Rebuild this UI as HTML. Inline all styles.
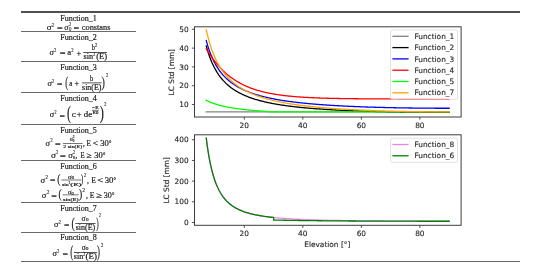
<!DOCTYPE html>
<html><head><meta charset="utf-8">
<style>
html,body{margin:0;padding:0;background:#fff;}
body{width:550px;height:280px;position:relative;overflow:hidden;}
.hr{position:absolute;left:21px;background:#6a6a6a;}
svg{position:absolute;left:0;top:0;}
svg text{font-family:"DejaVu Sans",sans-serif;font-size:7.4px;fill:#262626;stroke:#262626;stroke-width:0.12px;}
.L text{font-family:"Liberation Serif",serif;fill:#1a1a1a;stroke:#1a1a1a;stroke-width:0.18px;}
.L rect{fill:#1a1a1a;}
</style></head><body>
<div class="hr" style="top:11px;width:498.5px;height:2px;background:#505050"></div>
<div class="hr" style="top:31px;width:114.5px;height:1px"></div>
<div class="hr" style="top:61px;width:114.5px;height:1px"></div>
<div class="hr" style="top:92px;width:114.5px;height:1px"></div>
<div class="hr" style="top:124px;width:114.5px;height:1px"></div>
<div class="hr" style="top:160px;width:114.5px;height:1px"></div>
<div class="hr" style="top:202px;width:114.5px;height:1px"></div>
<div class="hr" style="top:232px;width:114.5px;height:1px"></div>
<div class="hr" style="top:261px;width:498.5px;height:1px"></div>

<svg width="550" height="280" viewBox="0 0 550 280">
<clipPath id="c26"><rect x="194.5" y="26.8" width="266.6" height="90.2"/></clipPath>
<g clip-path="url(#c26)" fill="none" stroke-width="1.3" stroke-linejoin="round" stroke-linecap="square">
<polyline points="206.26,111.91 206.99,111.91 207.72,111.91 208.46,111.91 209.19,111.91 209.92,111.91 210.65,111.91 211.38,111.91 212.11,111.91 212.85,111.91 213.58,111.91 214.31,111.91 215.04,111.91 215.77,111.91 216.50,111.91 217.23,111.91 217.97,111.91 218.70,111.91 219.43,111.91 220.16,111.91 220.89,111.91 221.62,111.91 222.36,111.91 223.09,111.91 223.82,111.91 224.55,111.91 225.28,111.91 226.01,111.91 226.74,111.91 227.48,111.91 228.21,111.91 228.94,111.91 229.67,111.91 230.40,111.91 231.13,111.91 231.86,111.91 232.60,111.91 233.33,111.91 234.06,111.91 234.79,111.91 235.52,111.91 236.25,111.91 236.99,111.91 237.72,111.91 238.45,111.91 239.18,111.91 239.91,111.91 240.64,111.91 241.37,111.91 242.11,111.91 242.84,111.91 243.57,111.91 244.30,111.91 245.03,111.91 245.76,111.91 246.49,111.91 247.23,111.91 247.96,111.91 248.69,111.91 249.42,111.91 250.15,111.91 250.88,111.91 251.62,111.91 252.35,111.91 253.08,111.91 253.81,111.91 254.54,111.91 255.27,111.91 256.00,111.91 256.74,111.91 257.47,111.91 258.20,111.91 258.93,111.91 259.66,111.91 260.39,111.91 261.12,111.91 261.86,111.91 262.59,111.91 263.32,111.91 264.05,111.91 264.78,111.91 265.51,111.91 266.25,111.91 266.98,111.91 267.71,111.91 268.44,111.91 269.17,111.91 269.90,111.91 270.63,111.91 271.37,111.91 272.10,111.91 272.83,111.91 273.56,111.91 273.56,111.91 274.29,111.91 275.02,111.91 275.75,111.91 276.49,111.91 277.22,111.91 277.95,111.91 278.68,111.91 279.41,111.91 280.14,111.91 280.88,111.91 281.61,111.91 282.34,111.91 283.07,111.91 283.80,111.91 284.53,111.91 285.26,111.91 286.00,111.91 286.73,111.91 287.46,111.91 288.19,111.91 288.92,111.91 289.65,111.91 290.38,111.91 291.12,111.91 291.85,111.91 292.58,111.91 293.31,111.91 294.04,111.91 294.77,111.91 295.50,111.91 296.24,111.91 296.97,111.91 297.70,111.91 298.43,111.91 299.16,111.91 299.89,111.91 300.63,111.91 301.36,111.91 302.09,111.91 302.82,111.91 303.55,111.91 304.28,111.91 305.01,111.91 305.75,111.91 306.48,111.91 307.21,111.91 307.94,111.91 308.67,111.91 309.40,111.91 310.13,111.91 310.87,111.91 311.60,111.91 312.33,111.91 313.06,111.91 313.79,111.91 314.52,111.91 315.26,111.91 315.99,111.91 316.72,111.91 317.45,111.91 318.18,111.91 318.91,111.91 319.64,111.91 320.38,111.91 321.11,111.91 321.84,111.91 322.57,111.91 323.30,111.91 324.03,111.91 324.76,111.91 325.50,111.91 326.23,111.91 326.96,111.91 327.69,111.91 328.42,111.91 329.15,111.91 329.89,111.91 330.62,111.91 331.35,111.91 332.08,111.91 332.81,111.91 333.54,111.91 334.27,111.91 335.01,111.91 335.74,111.91 336.47,111.91 337.20,111.91 337.93,111.91 338.66,111.91 339.39,111.91 340.13,111.91 340.86,111.91 341.59,111.91 342.32,111.91 343.05,111.91 343.78,111.91 344.52,111.91 345.25,111.91 345.98,111.91 346.71,111.91 347.44,111.91 348.17,111.91 348.90,111.91 349.64,111.91 350.37,111.91 351.10,111.91 351.83,111.91 352.56,111.91 353.29,111.91 354.02,111.91 354.76,111.91 355.49,111.91 356.22,111.91 356.95,111.91 357.68,111.91 358.41,111.91 359.15,111.91 359.88,111.91 360.61,111.91 361.34,111.91 362.07,111.91 362.80,111.91 363.53,111.91 364.27,111.91 365.00,111.91 365.73,111.91 366.46,111.91 367.19,111.91 367.92,111.91 368.65,111.91 369.39,111.91 370.12,111.91 370.85,111.91 371.58,111.91 372.31,111.91 373.04,111.91 373.78,111.91 374.51,111.91 375.24,111.91 375.97,111.91 376.70,111.91 377.43,111.91 378.16,111.91 378.90,111.91 379.63,111.91 380.36,111.91 381.09,111.91 381.82,111.91 382.55,111.91 383.29,111.91 384.02,111.91 384.75,111.91 385.48,111.91 386.21,111.91 386.94,111.91 387.67,111.91 388.41,111.91 389.14,111.91 389.87,111.91 390.60,111.91 391.33,111.91 392.06,111.91 392.79,111.91 393.53,111.91 394.26,111.91 394.99,111.91 395.72,111.91 396.45,111.91 397.18,111.91 397.92,111.91 398.65,111.91 399.38,111.91 400.11,111.91 400.84,111.91 401.57,111.91 402.30,111.91 403.04,111.91 403.77,111.91 404.50,111.91 405.23,111.91 405.96,111.91 406.69,111.91 407.42,111.91 408.16,111.91 408.89,111.91 409.62,111.91 410.35,111.91 411.08,111.91 411.81,111.91 412.55,111.91 413.28,111.91 414.01,111.91 414.74,111.91 415.47,111.91 416.20,111.91 416.93,111.91 417.67,111.91 418.40,111.91 419.13,111.91 419.86,111.91 420.59,111.91 421.32,111.91 422.05,111.91 422.79,111.91 423.52,111.91 424.25,111.91 424.98,111.91 425.71,111.91 426.44,111.91 427.18,111.91 427.91,111.91 428.64,111.91 429.37,111.91 430.10,111.91 430.83,111.91 431.56,111.91 432.30,111.91 433.03,111.91 433.76,111.91 434.49,111.91 435.22,111.91 435.95,111.91 436.68,111.91 437.42,111.91 438.15,111.91 438.88,111.91 439.61,111.91 440.34,111.91 441.07,111.91 441.81,111.91 442.54,111.91 443.27,111.91 444.00,111.91 444.73,111.91 445.46,111.91 446.19,111.91 446.93,111.91 447.66,111.91 448.39,111.91 449.12,111.91" stroke="#808080"/>
<polyline points="206.26,45.96 206.99,48.60 207.72,51.06 208.46,53.37 209.19,55.52 209.92,57.55 210.65,59.45 211.38,61.25 212.11,62.95 212.85,64.55 213.58,66.07 214.31,67.51 215.04,68.87 215.77,70.17 216.50,71.41 217.23,72.59 217.97,73.71 218.70,74.79 219.43,75.81 220.16,76.80 220.89,77.74 221.62,78.64 222.36,79.51 223.09,80.34 223.82,81.13 224.55,81.90 225.28,82.64 226.01,83.35 226.74,84.04 227.48,84.70 228.21,85.34 228.94,85.95 229.67,86.55 230.40,87.12 231.13,87.68 231.86,88.21 232.60,88.73 233.33,89.24 234.06,89.73 234.79,90.20 235.52,90.66 236.25,91.10 236.99,91.54 237.72,91.96 238.45,92.36 239.18,92.76 239.91,93.14 240.64,93.52 241.37,93.88 242.11,94.24 242.84,94.58 243.57,94.92 244.30,95.24 245.03,95.56 245.76,95.87 246.49,96.18 247.23,96.47 247.96,96.76 248.69,97.04 249.42,97.31 250.15,97.58 250.88,97.84 251.62,98.10 252.35,98.35 253.08,98.59 253.81,98.83 254.54,99.06 255.27,99.29 256.00,99.51 256.74,99.73 257.47,99.94 258.20,100.15 258.93,100.35 259.66,100.55 260.39,100.75 261.12,100.94 261.86,101.13 262.59,101.31 263.32,101.49 264.05,101.67 264.78,101.84 265.51,102.01 266.25,102.18 266.98,102.34 267.71,102.50 268.44,102.65 269.17,102.81 269.90,102.96 270.63,103.11 271.37,103.25 272.10,103.39 272.83,103.53 273.56,103.67 273.56,103.67 274.29,103.81 275.02,103.94 275.75,104.07 276.49,104.20 277.22,104.32 277.95,104.45 278.68,104.57 279.41,104.69 280.14,104.80 280.88,104.92 281.61,105.03 282.34,105.14 283.07,105.25 283.80,105.36 284.53,105.47 285.26,105.57 286.00,105.67 286.73,105.77 287.46,105.87 288.19,105.97 288.92,106.06 289.65,106.16 290.38,106.25 291.12,106.34 291.85,106.43 292.58,106.52 293.31,106.61 294.04,106.69 294.77,106.78 295.50,106.86 296.24,106.94 296.97,107.02 297.70,107.10 298.43,107.18 299.16,107.26 299.89,107.33 300.63,107.41 301.36,107.48 302.09,107.55 302.82,107.63 303.55,107.70 304.28,107.77 305.01,107.83 305.75,107.90 306.48,107.97 307.21,108.03 307.94,108.10 308.67,108.16 309.40,108.22 310.13,108.29 310.87,108.35 311.60,108.41 312.33,108.47 313.06,108.53 313.79,108.58 314.52,108.64 315.26,108.70 315.99,108.75 316.72,108.81 317.45,108.86 318.18,108.91 318.91,108.96 319.64,109.02 320.38,109.07 321.11,109.12 321.84,109.17 322.57,109.22 323.30,109.26 324.03,109.31 324.76,109.36 325.50,109.40 326.23,109.45 326.96,109.50 327.69,109.54 328.42,109.58 329.15,109.63 329.89,109.67 330.62,109.71 331.35,109.75 332.08,109.80 332.81,109.84 333.54,109.88 334.27,109.92 335.01,109.95 335.74,109.99 336.47,110.03 337.20,110.07 337.93,110.11 338.66,110.14 339.39,110.18 340.13,110.21 340.86,110.25 341.59,110.28 342.32,110.32 343.05,110.35 343.78,110.38 344.52,110.42 345.25,110.45 345.98,110.48 346.71,110.51 347.44,110.54 348.17,110.58 348.90,110.61 349.64,110.64 350.37,110.67 351.10,110.70 351.83,110.72 352.56,110.75 353.29,110.78 354.02,110.81 354.76,110.84 355.49,110.86 356.22,110.89 356.95,110.92 357.68,110.94 358.41,110.97 359.15,110.99 359.88,111.02 360.61,111.04 361.34,111.07 362.07,111.09 362.80,111.12 363.53,111.14 364.27,111.16 365.00,111.19 365.73,111.21 366.46,111.23 367.19,111.25 367.92,111.27 368.65,111.30 369.39,111.32 370.12,111.34 370.85,111.36 371.58,111.38 372.31,111.40 373.04,111.42 373.78,111.44 374.51,111.46 375.24,111.48 375.97,111.49 376.70,111.51 377.43,111.53 378.16,111.55 378.90,111.57 379.63,111.58 380.36,111.60 381.09,111.62 381.82,111.63 382.55,111.65 383.29,111.67 384.02,111.68 384.75,111.70 385.48,111.71 386.21,111.73 386.94,111.74 387.67,111.76 388.41,111.77 389.14,111.79 389.87,111.80 390.60,111.82 391.33,111.83 392.06,111.84 392.79,111.86 393.53,111.87 394.26,111.88 394.99,111.90 395.72,111.91 396.45,111.92 397.18,111.93 397.92,111.94 398.65,111.96 399.38,111.97 400.11,111.98 400.84,111.99 401.57,112.00 402.30,112.01 403.04,112.02 403.77,112.03 404.50,112.04 405.23,112.05 405.96,112.06 406.69,112.07 407.42,112.08 408.16,112.09 408.89,112.10 409.62,112.11 410.35,112.12 411.08,112.13 411.81,112.13 412.55,112.14 413.28,112.15 414.01,112.16 414.74,112.16 415.47,112.17 416.20,112.18 416.93,112.19 417.67,112.19 418.40,112.20 419.13,112.21 419.86,112.21 420.59,112.22 421.32,112.23 422.05,112.23 422.79,112.24 423.52,112.24 424.25,112.25 424.98,112.25 425.71,112.26 426.44,112.26 427.18,112.27 427.91,112.27 428.64,112.28 429.37,112.28 430.10,112.29 430.83,112.29 431.56,112.29 432.30,112.30 433.03,112.30 433.76,112.30 434.49,112.31 435.22,112.31 435.95,112.31 436.68,112.32 437.42,112.32 438.15,112.32 438.88,112.32 439.61,112.32 440.34,112.33 441.07,112.33 441.81,112.33 442.54,112.33 443.27,112.33 444.00,112.33 444.73,112.34 445.46,112.34 446.19,112.34 446.93,112.34 447.66,112.34 448.39,112.34 449.12,112.34" stroke="#000000"/>
<polyline points="206.26,40.53 206.99,43.17 207.72,45.64 208.46,47.95 209.19,50.12 209.92,52.15 210.65,54.06 211.38,55.87 212.11,57.57 212.85,59.18 213.58,60.71 214.31,62.15 215.04,63.53 215.77,64.83 216.50,66.08 217.23,67.26 217.97,68.40 218.70,69.48 219.43,70.51 220.16,71.50 220.89,72.45 221.62,73.36 222.36,74.23 223.09,75.07 223.82,75.87 224.55,76.65 225.28,77.39 226.01,78.11 226.74,78.80 227.48,79.47 228.21,80.12 228.94,80.74 229.67,81.34 230.40,81.92 231.13,82.49 231.86,83.03 232.60,83.56 233.33,84.07 234.06,84.56 234.79,85.04 235.52,85.51 236.25,85.96 236.99,86.40 237.72,86.83 238.45,87.24 239.18,87.64 239.91,88.04 240.64,88.42 241.37,88.79 242.11,89.15 242.84,89.50 243.57,89.84 244.30,90.18 245.03,90.50 245.76,90.82 246.49,91.13 247.23,91.43 247.96,91.72 248.69,92.01 249.42,92.29 250.15,92.57 250.88,92.83 251.62,93.10 252.35,93.35 253.08,93.60 253.81,93.85 254.54,94.09 255.27,94.32 256.00,94.55 256.74,94.77 257.47,94.99 258.20,95.21 258.93,95.42 259.66,95.62 260.39,95.83 261.12,96.02 261.86,96.22 262.59,96.41 263.32,96.59 264.05,96.78 264.78,96.95 265.51,97.13 266.25,97.30 266.98,97.47 267.71,97.64 268.44,97.80 269.17,97.96 269.90,98.12 270.63,98.27 271.37,98.42 272.10,98.57 272.83,98.72 273.56,98.86 273.56,98.86 274.29,99.00 275.02,99.14 275.75,99.28 276.49,99.41 277.22,99.54 277.95,99.67 278.68,99.80 279.41,99.92 280.14,100.04 280.88,100.17 281.61,100.28 282.34,100.40 283.07,100.52 283.80,100.63 284.53,100.74 285.26,100.85 286.00,100.96 286.73,101.06 287.46,101.17 288.19,101.27 288.92,101.37 289.65,101.47 290.38,101.57 291.12,101.67 291.85,101.76 292.58,101.86 293.31,101.95 294.04,102.04 294.77,102.13 295.50,102.22 296.24,102.31 296.97,102.39 297.70,102.48 298.43,102.56 299.16,102.64 299.89,102.72 300.63,102.80 301.36,102.88 302.09,102.96 302.82,103.04 303.55,103.11 304.28,103.19 305.01,103.26 305.75,103.33 306.48,103.40 307.21,103.47 307.94,103.54 308.67,103.61 309.40,103.68 310.13,103.75 310.87,103.81 311.60,103.88 312.33,103.94 313.06,104.00 313.79,104.07 314.52,104.13 315.26,104.19 315.99,104.25 316.72,104.31 317.45,104.37 318.18,104.42 318.91,104.48 319.64,104.54 320.38,104.59 321.11,104.65 321.84,104.70 322.57,104.75 323.30,104.81 324.03,104.86 324.76,104.91 325.50,104.96 326.23,105.01 326.96,105.06 327.69,105.11 328.42,105.16 329.15,105.20 329.89,105.25 330.62,105.30 331.35,105.34 332.08,105.39 332.81,105.43 333.54,105.48 334.27,105.52 335.01,105.56 335.74,105.61 336.47,105.65 337.20,105.69 337.93,105.73 338.66,105.77 339.39,105.81 340.13,105.85 340.86,105.89 341.59,105.93 342.32,105.97 343.05,106.00 343.78,106.04 344.52,106.08 345.25,106.11 345.98,106.15 346.71,106.18 347.44,106.22 348.17,106.25 348.90,106.29 349.64,106.32 350.37,106.35 351.10,106.39 351.83,106.42 352.56,106.45 353.29,106.48 354.02,106.51 354.76,106.55 355.49,106.58 356.22,106.61 356.95,106.64 357.68,106.66 358.41,106.69 359.15,106.72 359.88,106.75 360.61,106.78 361.34,106.81 362.07,106.83 362.80,106.86 363.53,106.89 364.27,106.91 365.00,106.94 365.73,106.96 366.46,106.99 367.19,107.01 367.92,107.04 368.65,107.06 369.39,107.09 370.12,107.11 370.85,107.13 371.58,107.16 372.31,107.18 373.04,107.20 373.78,107.22 374.51,107.25 375.24,107.27 375.97,107.29 376.70,107.31 377.43,107.33 378.16,107.35 378.90,107.37 379.63,107.39 380.36,107.41 381.09,107.43 381.82,107.45 382.55,107.47 383.29,107.49 384.02,107.50 384.75,107.52 385.48,107.54 386.21,107.56 386.94,107.57 387.67,107.59 388.41,107.61 389.14,107.62 389.87,107.64 390.60,107.66 391.33,107.67 392.06,107.69 392.79,107.70 393.53,107.72 394.26,107.73 394.99,107.75 395.72,107.76 396.45,107.78 397.18,107.79 397.92,107.80 398.65,107.82 399.38,107.83 400.11,107.84 400.84,107.86 401.57,107.87 402.30,107.88 403.04,107.89 403.77,107.91 404.50,107.92 405.23,107.93 405.96,107.94 406.69,107.95 407.42,107.96 408.16,107.97 408.89,107.98 409.62,107.99 410.35,108.00 411.08,108.01 411.81,108.02 412.55,108.03 413.28,108.04 414.01,108.05 414.74,108.06 415.47,108.07 416.20,108.08 416.93,108.08 417.67,108.09 418.40,108.10 419.13,108.11 419.86,108.11 420.59,108.12 421.32,108.13 422.05,108.14 422.79,108.14 423.52,108.15 424.25,108.16 424.98,108.16 425.71,108.17 426.44,108.17 427.18,108.18 427.91,108.18 428.64,108.19 429.37,108.19 430.10,108.20 430.83,108.20 431.56,108.21 432.30,108.21 433.03,108.22 433.76,108.22 434.49,108.22 435.22,108.23 435.95,108.23 436.68,108.23 437.42,108.24 438.15,108.24 438.88,108.24 439.61,108.24 440.34,108.25 441.07,108.25 441.81,108.25 442.54,108.25 443.27,108.25 444.00,108.26 444.73,108.26 445.46,108.26 446.19,108.26 446.93,108.26 447.66,108.26 448.39,108.26 449.12,108.26" stroke="#0000ff"/>
<polyline points="206.26,48.63 206.99,49.88 207.72,51.09 208.46,52.28 209.19,53.43 209.92,54.56 210.65,55.66 211.38,56.73 212.11,57.77 212.85,58.79 213.58,59.79 214.31,60.76 215.04,61.70 215.77,62.62 216.50,63.52 217.23,64.40 217.97,65.25 218.70,66.09 219.43,66.90 220.16,67.70 220.89,68.47 221.62,69.23 222.36,69.96 223.09,70.68 223.82,71.38 224.55,72.06 225.28,72.73 226.01,73.38 226.74,74.01 227.48,74.63 228.21,75.23 228.94,75.82 229.67,76.40 230.40,76.96 231.13,77.50 231.86,78.03 232.60,78.55 233.33,79.06 234.06,79.55 234.79,80.03 235.52,80.50 236.25,80.96 236.99,81.41 237.72,81.84 238.45,82.27 239.18,82.68 239.91,83.09 240.64,83.48 241.37,83.86 242.11,84.24 242.84,84.60 243.57,84.96 244.30,85.31 245.03,85.65 245.76,85.98 246.49,86.30 247.23,86.62 247.96,86.92 248.69,87.22 249.42,87.51 250.15,87.80 250.88,88.08 251.62,88.35 252.35,88.61 253.08,88.87 253.81,89.12 254.54,89.37 255.27,89.61 256.00,89.84 256.74,90.07 257.47,90.29 258.20,90.50 258.93,90.71 259.66,90.92 260.39,91.12 261.12,91.32 261.86,91.51 262.59,91.69 263.32,91.88 264.05,92.05 264.78,92.23 265.51,92.39 266.25,92.56 266.98,92.72 267.71,92.87 268.44,93.03 269.17,93.18 269.90,93.32 270.63,93.46 271.37,93.60 272.10,93.73 272.83,93.87 273.56,93.99 273.56,93.99 274.29,94.12 275.02,94.24 275.75,94.36 276.49,94.47 277.22,94.59 277.95,94.70 278.68,94.81 279.41,94.91 280.14,95.01 280.88,95.11 281.61,95.21 282.34,95.30 283.07,95.40 283.80,95.49 284.53,95.57 285.26,95.66 286.00,95.74 286.73,95.83 287.46,95.90 288.19,95.98 288.92,96.06 289.65,96.13 290.38,96.20 291.12,96.27 291.85,96.34 292.58,96.41 293.31,96.47 294.04,96.54 294.77,96.60 295.50,96.66 296.24,96.72 296.97,96.78 297.70,96.83 298.43,96.89 299.16,96.94 299.89,96.99 300.63,97.04 301.36,97.09 302.09,97.14 302.82,97.19 303.55,97.23 304.28,97.28 305.01,97.32 305.75,97.37 306.48,97.41 307.21,97.45 307.94,97.49 308.67,97.53 309.40,97.56 310.13,97.60 310.87,97.64 311.60,97.67 312.33,97.70 313.06,97.74 313.79,97.77 314.52,97.80 315.26,97.83 315.99,97.86 316.72,97.89 317.45,97.92 318.18,97.95 318.91,97.98 319.64,98.00 320.38,98.03 321.11,98.05 321.84,98.08 322.57,98.10 323.30,98.12 324.03,98.15 324.76,98.17 325.50,98.19 326.23,98.21 326.96,98.23 327.69,98.25 328.42,98.27 329.15,98.29 329.89,98.31 330.62,98.33 331.35,98.35 332.08,98.36 332.81,98.38 333.54,98.40 334.27,98.41 335.01,98.43 335.74,98.44 336.47,98.46 337.20,98.47 337.93,98.49 338.66,98.50 339.39,98.52 340.13,98.53 340.86,98.54 341.59,98.55 342.32,98.57 343.05,98.58 343.78,98.59 344.52,98.60 345.25,98.61 345.98,98.62 346.71,98.63 347.44,98.64 348.17,98.65 348.90,98.66 349.64,98.67 350.37,98.68 351.10,98.69 351.83,98.70 352.56,98.71 353.29,98.72 354.02,98.72 354.76,98.73 355.49,98.74 356.22,98.75 356.95,98.76 357.68,98.76 358.41,98.77 359.15,98.78 359.88,98.78 360.61,98.79 361.34,98.80 362.07,98.80 362.80,98.81 363.53,98.81 364.27,98.82 365.00,98.83 365.73,98.83 366.46,98.84 367.19,98.84 367.92,98.85 368.65,98.85 369.39,98.86 370.12,98.86 370.85,98.87 371.58,98.87 372.31,98.88 373.04,98.88 373.78,98.88 374.51,98.89 375.24,98.89 375.97,98.90 376.70,98.90 377.43,98.90 378.16,98.91 378.90,98.91 379.63,98.91 380.36,98.92 381.09,98.92 381.82,98.92 382.55,98.93 383.29,98.93 384.02,98.93 384.75,98.93 385.48,98.94 386.21,98.94 386.94,98.94 387.67,98.95 388.41,98.95 389.14,98.95 389.87,98.95 390.60,98.96 391.33,98.96 392.06,98.96 392.79,98.96 393.53,98.96 394.26,98.97 394.99,98.97 395.72,98.97 396.45,98.97 397.18,98.97 397.92,98.98 398.65,98.98 399.38,98.98 400.11,98.98 400.84,98.98 401.57,98.98 402.30,98.99 403.04,98.99 403.77,98.99 404.50,98.99 405.23,98.99 405.96,98.99 406.69,98.99 407.42,99.00 408.16,99.00 408.89,99.00 409.62,99.00 410.35,99.00 411.08,99.00 411.81,99.00 412.55,99.00 413.28,99.01 414.01,99.01 414.74,99.01 415.47,99.01 416.20,99.01 416.93,99.01 417.67,99.01 418.40,99.01 419.13,99.01 419.86,99.01 420.59,99.01 421.32,99.02 422.05,99.02 422.79,99.02 423.52,99.02 424.25,99.02 424.98,99.02 425.71,99.02 426.44,99.02 427.18,99.02 427.91,99.02 428.64,99.02 429.37,99.02 430.10,99.02 430.83,99.02 431.56,99.03 432.30,99.03 433.03,99.03 433.76,99.03 434.49,99.03 435.22,99.03 435.95,99.03 436.68,99.03 437.42,99.03 438.15,99.03 438.88,99.03 439.61,99.03 440.34,99.03 441.07,99.03 441.81,99.03 442.54,99.03 443.27,99.03 444.00,99.03 444.73,99.03 445.46,99.03 446.19,99.03 446.93,99.03 447.66,99.03 448.39,99.04 449.12,99.04" stroke="#ff0000"/>
<polyline points="206.26,100.22 206.99,100.62 207.72,101.00 208.46,101.36 209.19,101.71 209.92,102.03 210.65,102.35 211.38,102.65 212.11,102.93 212.85,103.21 213.58,103.47 214.31,103.72 215.04,103.97 215.77,104.20 216.50,104.43 217.23,104.65 217.97,104.86 218.70,105.06 219.43,105.26 220.16,105.45 220.89,105.63 221.62,105.81 222.36,105.98 223.09,106.15 223.82,106.31 224.55,106.47 225.28,106.63 226.01,106.78 226.74,106.92 227.48,107.06 228.21,107.20 228.94,107.33 229.67,107.47 230.40,107.59 231.13,107.72 231.86,107.84 232.60,107.96 233.33,108.07 234.06,108.18 234.79,108.29 235.52,108.40 236.25,108.51 236.99,108.61 237.72,108.71 238.45,108.81 239.18,108.90 239.91,109.00 240.64,109.09 241.37,109.18 242.11,109.27 242.84,109.36 243.57,109.44 244.30,109.53 245.03,109.61 245.76,109.69 246.49,109.77 247.23,109.84 247.96,109.92 248.69,109.99 249.42,110.07 250.15,110.14 250.88,110.21 251.62,110.28 252.35,110.35 253.08,110.41 253.81,110.48 254.54,110.54 255.27,110.61 256.00,110.67 256.74,110.73 257.47,110.79 258.20,110.85 258.93,110.91 259.66,110.97 260.39,111.02 261.12,111.08 261.86,111.13 262.59,111.19 263.32,111.24 264.05,111.29 264.78,111.34 265.51,111.39 266.25,111.44 266.98,111.49 267.71,111.54 268.44,111.59 269.17,111.64 269.90,111.68 270.63,111.73 271.37,111.78 272.10,111.82 272.83,111.86 273.56,111.91 273.56,111.91 274.29,111.91 275.02,111.91 275.75,111.91 276.49,111.91 277.22,111.91 277.95,111.91 278.68,111.91 279.41,111.91 280.14,111.91 280.88,111.91 281.61,111.91 282.34,111.91 283.07,111.91 283.80,111.91 284.53,111.91 285.26,111.91 286.00,111.91 286.73,111.91 287.46,111.91 288.19,111.91 288.92,111.91 289.65,111.91 290.38,111.91 291.12,111.91 291.85,111.91 292.58,111.91 293.31,111.91 294.04,111.91 294.77,111.91 295.50,111.91 296.24,111.91 296.97,111.91 297.70,111.91 298.43,111.91 299.16,111.91 299.89,111.91 300.63,111.91 301.36,111.91 302.09,111.91 302.82,111.91 303.55,111.91 304.28,111.91 305.01,111.91 305.75,111.91 306.48,111.91 307.21,111.91 307.94,111.91 308.67,111.91 309.40,111.91 310.13,111.91 310.87,111.91 311.60,111.91 312.33,111.91 313.06,111.91 313.79,111.91 314.52,111.91 315.26,111.91 315.99,111.91 316.72,111.91 317.45,111.91 318.18,111.91 318.91,111.91 319.64,111.91 320.38,111.91 321.11,111.91 321.84,111.91 322.57,111.91 323.30,111.91 324.03,111.91 324.76,111.91 325.50,111.91 326.23,111.91 326.96,111.91 327.69,111.91 328.42,111.91 329.15,111.91 329.89,111.91 330.62,111.91 331.35,111.91 332.08,111.91 332.81,111.91 333.54,111.91 334.27,111.91 335.01,111.91 335.74,111.91 336.47,111.91 337.20,111.91 337.93,111.91 338.66,111.91 339.39,111.91 340.13,111.91 340.86,111.91 341.59,111.91 342.32,111.91 343.05,111.91 343.78,111.91 344.52,111.91 345.25,111.91 345.98,111.91 346.71,111.91 347.44,111.91 348.17,111.91 348.90,111.91 349.64,111.91 350.37,111.91 351.10,111.91 351.83,111.91 352.56,111.91 353.29,111.91 354.02,111.91 354.76,111.91 355.49,111.91 356.22,111.91 356.95,111.91 357.68,111.91 358.41,111.91 359.15,111.91 359.88,111.91 360.61,111.91 361.34,111.91 362.07,111.91 362.80,111.91 363.53,111.91 364.27,111.91 365.00,111.91 365.73,111.91 366.46,111.91 367.19,111.91 367.92,111.91 368.65,111.91 369.39,111.91 370.12,111.91 370.85,111.91 371.58,111.91 372.31,111.91 373.04,111.91 373.78,111.91 374.51,111.91 375.24,111.91 375.97,111.91 376.70,111.91 377.43,111.91 378.16,111.91 378.90,111.91 379.63,111.91 380.36,111.91 381.09,111.91 381.82,111.91 382.55,111.91 383.29,111.91 384.02,111.91 384.75,111.91 385.48,111.91 386.21,111.91 386.94,111.91 387.67,111.91 388.41,111.91 389.14,111.91 389.87,111.91 390.60,111.91 391.33,111.91 392.06,111.91 392.79,111.91 393.53,111.91 394.26,111.91 394.99,111.91 395.72,111.91 396.45,111.91 397.18,111.91 397.92,111.91 398.65,111.91 399.38,111.91 400.11,111.91 400.84,111.91 401.57,111.91 402.30,111.91 403.04,111.91 403.77,111.91 404.50,111.91 405.23,111.91 405.96,111.91 406.69,111.91 407.42,111.91 408.16,111.91 408.89,111.91 409.62,111.91 410.35,111.91 411.08,111.91 411.81,111.91 412.55,111.91 413.28,111.91 414.01,111.91 414.74,111.91 415.47,111.91 416.20,111.91 416.93,111.91 417.67,111.91 418.40,111.91 419.13,111.91 419.86,111.91 420.59,111.91 421.32,111.91 422.05,111.91 422.79,111.91 423.52,111.91 424.25,111.91 424.98,111.91 425.71,111.91 426.44,111.91 427.18,111.91 427.91,111.91 428.64,111.91 429.37,111.91 430.10,111.91 430.83,111.91 431.56,111.91 432.30,111.91 433.03,111.91 433.76,111.91 434.49,111.91 435.22,111.91 435.95,111.91 436.68,111.91 437.42,111.91 438.15,111.91 438.88,111.91 439.61,111.91 440.34,111.91 441.07,111.91 441.81,111.91 442.54,111.91 443.27,111.91 444.00,111.91 444.73,111.91 445.46,111.91 446.19,111.91 446.93,111.91 447.66,111.91 448.39,111.91 449.12,111.91" stroke="#00ff00"/>
<polyline points="206.26,29.82 206.99,33.02 207.72,36.02 208.46,38.82 209.19,41.44 209.92,43.90 210.65,46.22 211.38,48.41 212.11,50.47 212.85,52.42 213.58,54.27 214.31,56.03 215.04,57.69 215.77,59.28 216.50,60.78 217.23,62.22 217.97,63.59 218.70,64.90 219.43,66.16 220.16,67.35 220.89,68.50 221.62,69.61 222.36,70.66 223.09,71.68 223.82,72.65 224.55,73.59 225.28,74.50 226.01,75.37 226.74,76.21 227.48,77.02 228.21,77.80 228.94,78.55 229.67,79.28 230.40,79.99 231.13,80.67 231.86,81.33 232.60,81.97 233.33,82.59 234.06,83.19 234.79,83.77 235.52,84.33 236.25,84.88 236.99,85.41 237.72,85.93 238.45,86.43 239.18,86.92 239.91,87.40 240.64,87.86 241.37,88.31 242.11,88.74 242.84,89.17 243.57,89.59 244.30,89.99 245.03,90.38 245.76,90.77 246.49,91.14 247.23,91.51 247.96,91.87 248.69,92.21 249.42,92.55 250.15,92.89 250.88,93.21 251.62,93.53 252.35,93.84 253.08,94.14 253.81,94.44 254.54,94.73 255.27,95.01 256.00,95.29 256.74,95.56 257.47,95.83 258.20,96.09 258.93,96.34 259.66,96.59 260.39,96.84 261.12,97.08 261.86,97.31 262.59,97.54 263.32,97.77 264.05,97.99 264.78,98.21 265.51,98.42 266.25,98.63 266.98,98.83 267.71,99.03 268.44,99.23 269.17,99.42 269.90,99.61 270.63,99.80 271.37,99.98 272.10,100.16 272.83,100.34 273.56,100.51 273.56,100.51 274.29,100.69 275.02,100.85 275.75,101.02 276.49,101.18 277.22,101.34 277.95,101.50 278.68,101.65 279.41,101.80 280.14,101.95 280.88,102.10 281.61,102.24 282.34,102.38 283.07,102.52 283.80,102.66 284.53,102.79 285.26,102.93 286.00,103.06 286.73,103.19 287.46,103.31 288.19,103.44 288.92,103.56 289.65,103.68 290.38,103.80 291.12,103.92 291.85,104.03 292.58,104.15 293.31,104.26 294.04,104.37 294.77,104.48 295.50,104.59 296.24,104.69 296.97,104.80 297.70,104.90 298.43,105.00 299.16,105.10 299.89,105.20 300.63,105.29 301.36,105.39 302.09,105.48 302.82,105.58 303.55,105.67 304.28,105.76 305.01,105.85 305.75,105.93 306.48,106.02 307.21,106.11 307.94,106.19 308.67,106.27 309.40,106.36 310.13,106.44 310.87,106.52 311.60,106.59 312.33,106.67 313.06,106.75 313.79,106.82 314.52,106.90 315.26,106.97 315.99,107.05 316.72,107.12 317.45,107.19 318.18,107.26 318.91,107.33 319.64,107.39 320.38,107.46 321.11,107.53 321.84,107.59 322.57,107.66 323.30,107.72 324.03,107.79 324.76,107.85 325.50,107.91 326.23,107.97 326.96,108.03 327.69,108.09 328.42,108.15 329.15,108.20 329.89,108.26 330.62,108.32 331.35,108.37 332.08,108.43 332.81,108.48 333.54,108.54 334.27,108.59 335.01,108.64 335.74,108.69 336.47,108.74 337.20,108.79 337.93,108.84 338.66,108.89 339.39,108.94 340.13,108.99 340.86,109.03 341.59,109.08 342.32,109.13 343.05,109.17 343.78,109.22 344.52,109.26 345.25,109.31 345.98,109.35 346.71,109.39 347.44,109.43 348.17,109.48 348.90,109.52 349.64,109.56 350.37,109.60 351.10,109.64 351.83,109.68 352.56,109.72 353.29,109.75 354.02,109.79 354.76,109.83 355.49,109.87 356.22,109.90 356.95,109.94 357.68,109.97 358.41,110.01 359.15,110.04 359.88,110.08 360.61,110.11 361.34,110.14 362.07,110.18 362.80,110.21 363.53,110.24 364.27,110.27 365.00,110.31 365.73,110.34 366.46,110.37 367.19,110.40 367.92,110.43 368.65,110.46 369.39,110.48 370.12,110.51 370.85,110.54 371.58,110.57 372.31,110.60 373.04,110.62 373.78,110.65 374.51,110.68 375.24,110.70 375.97,110.73 376.70,110.75 377.43,110.78 378.16,110.80 378.90,110.83 379.63,110.85 380.36,110.88 381.09,110.90 381.82,110.92 382.55,110.95 383.29,110.97 384.02,110.99 384.75,111.01 385.48,111.03 386.21,111.06 386.94,111.08 387.67,111.10 388.41,111.12 389.14,111.14 389.87,111.16 390.60,111.18 391.33,111.20 392.06,111.21 392.79,111.23 393.53,111.25 394.26,111.27 394.99,111.29 395.72,111.30 396.45,111.32 397.18,111.34 397.92,111.35 398.65,111.37 399.38,111.39 400.11,111.40 400.84,111.42 401.57,111.43 402.30,111.45 403.04,111.46 403.77,111.48 404.50,111.49 405.23,111.51 405.96,111.52 406.69,111.53 407.42,111.55 408.16,111.56 408.89,111.57 409.62,111.58 410.35,111.60 411.08,111.61 411.81,111.62 412.55,111.63 413.28,111.64 414.01,111.65 414.74,111.66 415.47,111.67 416.20,111.68 416.93,111.69 417.67,111.70 418.40,111.71 419.13,111.72 419.86,111.73 420.59,111.74 421.32,111.75 422.05,111.76 422.79,111.77 423.52,111.77 424.25,111.78 424.98,111.79 425.71,111.80 426.44,111.80 427.18,111.81 427.91,111.82 428.64,111.82 429.37,111.83 430.10,111.83 430.83,111.84 431.56,111.84 432.30,111.85 433.03,111.85 433.76,111.86 434.49,111.86 435.22,111.87 435.95,111.87 436.68,111.88 437.42,111.88 438.15,111.88 438.88,111.89 439.61,111.89 440.34,111.89 441.07,111.89 441.81,111.90 442.54,111.90 443.27,111.90 444.00,111.90 444.73,111.90 445.46,111.90 446.19,111.91 446.93,111.91 447.66,111.91 448.39,111.91 449.12,111.91" stroke="#ffa500"/>
</g>
<rect x="194.5" y="26.8" width="266.6" height="90.2" fill="none" stroke="#3c3c3c" stroke-width="1"/>
<line x1="191.9" y1="104.50" x2="194.5" y2="104.50" stroke="#3c3c3c" stroke-width="0.9"/>
<text x="188.6" y="107.10" text-anchor="end">10</text>
<line x1="191.9" y1="85.70" x2="194.5" y2="85.70" stroke="#3c3c3c" stroke-width="0.9"/>
<text x="188.6" y="88.30" text-anchor="end">20</text>
<line x1="191.9" y1="66.90" x2="194.5" y2="66.90" stroke="#3c3c3c" stroke-width="0.9"/>
<text x="188.6" y="69.50" text-anchor="end">30</text>
<line x1="191.9" y1="48.10" x2="194.5" y2="48.10" stroke="#3c3c3c" stroke-width="0.9"/>
<text x="188.6" y="50.70" text-anchor="end">40</text>
<line x1="191.9" y1="29.30" x2="194.5" y2="29.30" stroke="#3c3c3c" stroke-width="0.9"/>
<text x="188.6" y="31.90" text-anchor="end">50</text>
<line x1="244.30" y1="117.0" x2="244.30" y2="119.6" stroke="#3c3c3c" stroke-width="0.9"/>
<text x="244.30" y="127.80" text-anchor="middle">20</text>
<line x1="302.82" y1="117.0" x2="302.82" y2="119.6" stroke="#3c3c3c" stroke-width="0.9"/>
<text x="302.82" y="127.80" text-anchor="middle">40</text>
<line x1="361.34" y1="117.0" x2="361.34" y2="119.6" stroke="#3c3c3c" stroke-width="0.9"/>
<text x="361.34" y="127.80" text-anchor="middle">60</text>
<line x1="419.86" y1="117.0" x2="419.86" y2="119.6" stroke="#3c3c3c" stroke-width="0.9"/>
<text x="419.86" y="127.80" text-anchor="middle">80</text>
<text transform="translate(173.6 72.20) rotate(-90)" text-anchor="middle">LC Std [mm]</text>
<rect x="390.6" y="30.0" width="66.9" height="69.30" rx="1.4" fill="#fff" fill-opacity="0.8" stroke="#ccc" stroke-width="0.6"/>
<line x1="392.4" y1="36.30" x2="408.6" y2="36.30" stroke="#808080" stroke-width="1.3"/>
<text x="414.4" y="38.90">Function_1</text>
<line x1="392.4" y1="47.60" x2="408.6" y2="47.60" stroke="#000000" stroke-width="1.3"/>
<text x="414.4" y="50.20">Function_2</text>
<line x1="392.4" y1="58.90" x2="408.6" y2="58.90" stroke="#0000ff" stroke-width="1.3"/>
<text x="414.4" y="61.50">Function_3</text>
<line x1="392.4" y1="70.20" x2="408.6" y2="70.20" stroke="#ff0000" stroke-width="1.3"/>
<text x="414.4" y="72.80">Function_4</text>
<line x1="392.4" y1="81.50" x2="408.6" y2="81.50" stroke="#00ff00" stroke-width="1.3"/>
<text x="414.4" y="84.10">Function_5</text>
<line x1="392.4" y1="92.80" x2="408.6" y2="92.80" stroke="#ffa500" stroke-width="1.3"/>
<text x="414.4" y="95.40">Function_7</text>
<clipPath id="c134"><rect x="194.5" y="134.8" width="266.6" height="90.5"/></clipPath>
<g clip-path="url(#c134)" fill="none" stroke-width="1.3" stroke-linejoin="round" stroke-linecap="square">
<polyline points="206.26,138.12 206.99,143.81 207.72,148.94 208.46,153.58 209.19,157.80 209.92,161.64 210.65,165.14 211.38,168.35 212.11,171.29 212.85,174.00 213.58,176.50 214.31,178.80 215.04,180.94 215.77,182.92 216.50,184.76 217.23,186.48 217.97,188.08 218.70,189.57 219.43,190.97 220.16,192.28 220.89,193.51 221.62,194.66 222.36,195.75 223.09,196.77 223.82,197.73 224.55,198.64 225.28,199.50 226.01,200.32 226.74,201.09 227.48,201.82 228.21,202.51 228.94,203.17 229.67,203.79 230.40,204.39 231.13,204.95 231.86,205.49 232.60,206.01 233.33,206.50 234.06,206.96 234.79,207.41 235.52,207.84 236.25,208.25 236.99,208.64 237.72,209.02 238.45,209.38 239.18,209.72 239.91,210.05 240.64,210.37 241.37,210.68 242.11,210.97 242.84,211.25 243.57,211.53 244.30,211.79 245.03,212.04 245.76,212.28 246.49,212.52 247.23,212.74 247.96,212.96 248.69,213.17 249.42,213.37 250.15,213.57 250.88,213.76 251.62,213.94 252.35,214.12 253.08,214.29 253.81,214.46 254.54,214.62 255.27,214.77 256.00,214.92 256.74,215.07 257.47,215.21 258.20,215.35 258.93,215.48 259.66,215.61 260.39,215.74 261.12,215.86 261.86,215.98 262.59,216.09 263.32,216.21 264.05,216.31 264.78,216.42 265.51,216.52 266.25,216.62 266.98,216.72 267.71,216.81 268.44,216.91 269.17,217.00 269.90,217.08 270.63,217.17 271.37,217.25 272.10,217.33 272.83,217.41 273.56,217.49 273.56,217.49 274.29,217.56 275.02,217.63 275.75,217.71 276.49,217.78 277.22,217.84 277.95,217.91 278.68,217.97 279.41,218.04 280.14,218.10 280.88,218.16 281.61,218.22 282.34,218.28 283.07,218.33 283.80,218.39 284.53,218.44 285.26,218.49 286.00,218.54 286.73,218.59 287.46,218.64 288.19,218.69 288.92,218.74 289.65,218.78 290.38,218.83 291.12,218.87 291.85,218.92 292.58,218.96 293.31,219.00 294.04,219.04 294.77,219.08 295.50,219.12 296.24,219.16 296.97,219.19 297.70,219.23 298.43,219.27 299.16,219.30 299.89,219.34 300.63,219.37 301.36,219.40 302.09,219.44 302.82,219.47 303.55,219.50 304.28,219.53 305.01,219.56 305.75,219.59 306.48,219.62 307.21,219.65 307.94,219.67 308.67,219.70 309.40,219.73 310.13,219.75 310.87,219.78 311.60,219.81 312.33,219.83 313.06,219.86 313.79,219.88 314.52,219.90 315.26,219.93 315.99,219.95 316.72,219.97 317.45,219.99 318.18,220.02 318.91,220.04 319.64,220.06 320.38,220.08 321.11,220.10 321.84,220.12 322.57,220.14 323.30,220.16 324.03,220.18 324.76,220.19 325.50,220.21 326.23,220.23 326.96,220.25 327.69,220.27 328.42,220.28 329.15,220.30 329.89,220.32 330.62,220.33 331.35,220.35 332.08,220.36 332.81,220.38 333.54,220.40 334.27,220.41 335.01,220.43 335.74,220.44 336.47,220.45 337.20,220.47 337.93,220.48 338.66,220.50 339.39,220.51 340.13,220.52 340.86,220.54 341.59,220.55 342.32,220.56 343.05,220.57 343.78,220.59 344.52,220.60 345.25,220.61 345.98,220.62 346.71,220.63 347.44,220.64 348.17,220.65 348.90,220.67 349.64,220.68 350.37,220.69 351.10,220.70 351.83,220.71 352.56,220.72 353.29,220.73 354.02,220.74 354.76,220.75 355.49,220.76 356.22,220.77 356.95,220.78 357.68,220.79 358.41,220.79 359.15,220.80 359.88,220.81 360.61,220.82 361.34,220.83 362.07,220.84 362.80,220.85 363.53,220.85 364.27,220.86 365.00,220.87 365.73,220.88 366.46,220.88 367.19,220.89 367.92,220.90 368.65,220.91 369.39,220.91 370.12,220.92 370.85,220.93 371.58,220.94 372.31,220.94 373.04,220.95 373.78,220.96 374.51,220.96 375.24,220.97 375.97,220.97 376.70,220.98 377.43,220.99 378.16,220.99 378.90,221.00 379.63,221.00 380.36,221.01 381.09,221.02 381.82,221.02 382.55,221.03 383.29,221.03 384.02,221.04 384.75,221.04 385.48,221.05 386.21,221.05 386.94,221.06 387.67,221.06 388.41,221.07 389.14,221.07 389.87,221.08 390.60,221.08 391.33,221.09 392.06,221.09 392.79,221.09 393.53,221.10 394.26,221.10 394.99,221.11 395.72,221.11 396.45,221.11 397.18,221.12 397.92,221.12 398.65,221.13 399.38,221.13 400.11,221.13 400.84,221.14 401.57,221.14 402.30,221.14 403.04,221.15 403.77,221.15 404.50,221.15 405.23,221.16 405.96,221.16 406.69,221.16 407.42,221.17 408.16,221.17 408.89,221.17 409.62,221.17 410.35,221.18 411.08,221.18 411.81,221.18 412.55,221.19 413.28,221.19 414.01,221.19 414.74,221.19 415.47,221.19 416.20,221.20 416.93,221.20 417.67,221.20 418.40,221.20 419.13,221.21 419.86,221.21 420.59,221.21 421.32,221.21 422.05,221.21 422.79,221.22 423.52,221.22 424.25,221.22 424.98,221.22 425.71,221.22 426.44,221.22 427.18,221.23 427.91,221.23 428.64,221.23 429.37,221.23 430.10,221.23 430.83,221.23 431.56,221.23 432.30,221.23 433.03,221.24 433.76,221.24 434.49,221.24 435.22,221.24 435.95,221.24 436.68,221.24 437.42,221.24 438.15,221.24 438.88,221.24 439.61,221.24 440.34,221.24 441.07,221.24 441.81,221.24 442.54,221.24 443.27,221.25 444.00,221.25 444.73,221.25 445.46,221.25 446.19,221.25 446.93,221.25 447.66,221.25 448.39,221.25 449.12,221.25" stroke="#ee82ee"/>
<polyline points="206.26,138.12 206.99,143.81 207.72,148.94 208.46,153.58 209.19,157.80 209.92,161.64 210.65,165.14 211.38,168.35 212.11,171.29 212.85,174.00 213.58,176.50 214.31,178.80 215.04,180.94 215.77,182.92 216.50,184.76 217.23,186.48 217.97,188.08 218.70,189.57 219.43,190.97 220.16,192.28 220.89,193.51 221.62,194.66 222.36,195.75 223.09,196.77 223.82,197.73 224.55,198.64 225.28,199.50 226.01,200.32 226.74,201.09 227.48,201.82 228.21,202.51 228.94,203.17 229.67,203.79 230.40,204.39 231.13,204.95 231.86,205.49 232.60,206.01 233.33,206.50 234.06,206.96 234.79,207.41 235.52,207.84 236.25,208.25 236.99,208.64 237.72,209.02 238.45,209.38 239.18,209.72 239.91,210.05 240.64,210.37 241.37,210.68 242.11,210.97 242.84,211.25 243.57,211.53 244.30,211.79 245.03,212.04 245.76,212.28 246.49,212.52 247.23,212.74 247.96,212.96 248.69,213.17 249.42,213.37 250.15,213.57 250.88,213.76 251.62,213.94 252.35,214.12 253.08,214.29 253.81,214.46 254.54,214.62 255.27,214.77 256.00,214.92 256.74,215.07 257.47,215.21 258.20,215.35 258.93,215.48 259.66,215.61 260.39,215.74 261.12,215.86 261.86,215.98 262.59,216.09 263.32,216.21 264.05,216.31 264.78,216.42 265.51,216.52 266.25,216.62 266.98,216.72 267.71,216.81 268.44,216.91 269.17,217.00 269.90,217.08 270.63,217.17 271.37,217.25 272.10,217.33 272.83,217.41 273.56,217.49 273.56,219.99 274.29,220.01 275.02,220.03 275.75,220.05 276.49,220.07 277.22,220.08 277.95,220.10 278.68,220.12 279.41,220.14 280.14,220.15 280.88,220.17 281.61,220.18 282.34,220.20 283.07,220.21 283.80,220.23 284.53,220.24 285.26,220.26 286.00,220.27 286.73,220.29 287.46,220.30 288.19,220.32 288.92,220.33 289.65,220.34 290.38,220.36 291.12,220.37 291.85,220.38 292.58,220.39 293.31,220.41 294.04,220.42 294.77,220.43 295.50,220.44 296.24,220.45 296.97,220.46 297.70,220.48 298.43,220.49 299.16,220.50 299.89,220.51 300.63,220.52 301.36,220.53 302.09,220.54 302.82,220.55 303.55,220.56 304.28,220.57 305.01,220.58 305.75,220.59 306.48,220.60 307.21,220.61 307.94,220.62 308.67,220.63 309.40,220.64 310.13,220.65 310.87,220.65 311.60,220.66 312.33,220.67 313.06,220.68 313.79,220.69 314.52,220.70 315.26,220.70 315.99,220.71 316.72,220.72 317.45,220.73 318.18,220.74 318.91,220.74 319.64,220.75 320.38,220.76 321.11,220.77 321.84,220.77 322.57,220.78 323.30,220.79 324.03,220.79 324.76,220.80 325.50,220.81 326.23,220.81 326.96,220.82 327.69,220.83 328.42,220.83 329.15,220.84 329.89,220.85 330.62,220.85 331.35,220.86 332.08,220.86 332.81,220.87 333.54,220.88 334.27,220.88 335.01,220.89 335.74,220.89 336.47,220.90 337.20,220.90 337.93,220.91 338.66,220.92 339.39,220.92 340.13,220.93 340.86,220.93 341.59,220.94 342.32,220.94 343.05,220.95 343.78,220.95 344.52,220.96 345.25,220.96 345.98,220.97 346.71,220.97 347.44,220.97 348.17,220.98 348.90,220.98 349.64,220.99 350.37,220.99 351.10,221.00 351.83,221.00 352.56,221.01 353.29,221.01 354.02,221.01 354.76,221.02 355.49,221.02 356.22,221.03 356.95,221.03 357.68,221.03 358.41,221.04 359.15,221.04 359.88,221.05 360.61,221.05 361.34,221.05 362.07,221.06 362.80,221.06 363.53,221.06 364.27,221.07 365.00,221.07 365.73,221.07 366.46,221.08 367.19,221.08 367.92,221.08 368.65,221.09 369.39,221.09 370.12,221.09 370.85,221.10 371.58,221.10 372.31,221.10 373.04,221.11 373.78,221.11 374.51,221.11 375.24,221.11 375.97,221.12 376.70,221.12 377.43,221.12 378.16,221.13 378.90,221.13 379.63,221.13 380.36,221.13 381.09,221.14 381.82,221.14 382.55,221.14 383.29,221.14 384.02,221.15 384.75,221.15 385.48,221.15 386.21,221.15 386.94,221.16 387.67,221.16 388.41,221.16 389.14,221.16 389.87,221.16 390.60,221.17 391.33,221.17 392.06,221.17 392.79,221.17 393.53,221.17 394.26,221.18 394.99,221.18 395.72,221.18 396.45,221.18 397.18,221.18 397.92,221.19 398.65,221.19 399.38,221.19 400.11,221.19 400.84,221.19 401.57,221.19 402.30,221.20 403.04,221.20 403.77,221.20 404.50,221.20 405.23,221.20 405.96,221.20 406.69,221.21 407.42,221.21 408.16,221.21 408.89,221.21 409.62,221.21 410.35,221.21 411.08,221.21 411.81,221.22 412.55,221.22 413.28,221.22 414.01,221.22 414.74,221.22 415.47,221.22 416.20,221.22 416.93,221.22 417.67,221.22 418.40,221.23 419.13,221.23 419.86,221.23 420.59,221.23 421.32,221.23 422.05,221.23 422.79,221.23 423.52,221.23 424.25,221.23 424.98,221.23 425.71,221.23 426.44,221.24 427.18,221.24 427.91,221.24 428.64,221.24 429.37,221.24 430.10,221.24 430.83,221.24 431.56,221.24 432.30,221.24 433.03,221.24 433.76,221.24 434.49,221.24 435.22,221.24 435.95,221.24 436.68,221.24 437.42,221.24 438.15,221.24 438.88,221.24 439.61,221.24 440.34,221.25 441.07,221.25 441.81,221.25 442.54,221.25 443.27,221.25 444.00,221.25 444.73,221.25 445.46,221.25 446.19,221.25 446.93,221.25 447.66,221.25 448.39,221.25 449.12,221.25" stroke="#008000"/>
</g>
<rect x="194.5" y="134.8" width="266.6" height="90.5" fill="none" stroke="#3c3c3c" stroke-width="1"/>
<line x1="191.9" y1="222.50" x2="194.5" y2="222.50" stroke="#3c3c3c" stroke-width="0.9"/>
<text x="188.6" y="225.10" text-anchor="end">0</text>
<line x1="191.9" y1="201.82" x2="194.5" y2="201.82" stroke="#3c3c3c" stroke-width="0.9"/>
<text x="188.6" y="204.42" text-anchor="end">100</text>
<line x1="191.9" y1="181.14" x2="194.5" y2="181.14" stroke="#3c3c3c" stroke-width="0.9"/>
<text x="188.6" y="183.74" text-anchor="end">200</text>
<line x1="191.9" y1="160.46" x2="194.5" y2="160.46" stroke="#3c3c3c" stroke-width="0.9"/>
<text x="188.6" y="163.06" text-anchor="end">300</text>
<line x1="191.9" y1="139.78" x2="194.5" y2="139.78" stroke="#3c3c3c" stroke-width="0.9"/>
<text x="188.6" y="142.38" text-anchor="end">400</text>
<line x1="244.30" y1="225.3" x2="244.30" y2="227.9" stroke="#3c3c3c" stroke-width="0.9"/>
<text x="244.30" y="236.10" text-anchor="middle">20</text>
<line x1="302.82" y1="225.3" x2="302.82" y2="227.9" stroke="#3c3c3c" stroke-width="0.9"/>
<text x="302.82" y="236.10" text-anchor="middle">40</text>
<line x1="361.34" y1="225.3" x2="361.34" y2="227.9" stroke="#3c3c3c" stroke-width="0.9"/>
<text x="361.34" y="236.10" text-anchor="middle">60</text>
<line x1="419.86" y1="225.3" x2="419.86" y2="227.9" stroke="#3c3c3c" stroke-width="0.9"/>
<text x="419.86" y="236.10" text-anchor="middle">80</text>
<text transform="translate(169.1 180.35) rotate(-90)" text-anchor="middle">LC Std [mm]</text>
<rect x="390.6" y="138.2" width="66.9" height="24.10" rx="1.4" fill="#fff" fill-opacity="0.8" stroke="#ccc" stroke-width="0.6"/>
<line x1="392.4" y1="144.50" x2="408.6" y2="144.50" stroke="#ee82ee" stroke-width="1.3"/>
<text x="414.4" y="147.10">Function_8</text>
<line x1="392.4" y1="155.80" x2="408.6" y2="155.80" stroke="#008000" stroke-width="1.3"/>
<text x="414.4" y="158.40">Function_6</text>
<text x="327.3" y="246.8" text-anchor="middle">Elevation [°]</text>
<g class="L">
<text x="78.5" y="20.8" style="font-size:8px" text-anchor="middle">Function_1</text>
<text x="78.5" y="39.9" style="font-size:8px" text-anchor="middle">Function_2</text>
<text x="78.5" y="69.9" style="font-size:8px" text-anchor="middle">Function_3</text>
<text x="78.5" y="100.9" style="font-size:8px" text-anchor="middle">Function_4</text>
<text x="78.5" y="132.9" style="font-size:8px" text-anchor="middle">Function_5</text>
<text x="78.5" y="168.9" style="font-size:8px" text-anchor="middle">Function_6</text>
<text x="78.5" y="210.9" style="font-size:8px" text-anchor="middle">Function_7</text>
<text x="78.5" y="240.3" style="font-size:8px" text-anchor="middle">Function_8</text>
<text x="46.66" y="29.80" style="font-size:7.7px" textLength="4.88" lengthAdjust="spacingAndGlyphs">σ</text>
<text x="51.70" y="26.60" style="font-size:5.9px" textLength="2.25" lengthAdjust="spacingAndGlyphs">2</text>
<text x="56.90" y="31.19" style="font-size:9.0px" textLength="5.70" lengthAdjust="spacingAndGlyphs">=</text>
<text x="64.29" y="29.80" style="font-size:7.7px" textLength="4.44" lengthAdjust="spacingAndGlyphs">σ</text>
<text x="69.24" y="25.80" style="font-size:5.9px" textLength="1.87" lengthAdjust="spacingAndGlyphs">2</text>
<text x="69.24" y="30.60" style="font-size:5.9px" textLength="2.12" lengthAdjust="spacingAndGlyphs">0</text>
<text x="73.60" y="31.19" style="font-size:9.0px" textLength="5.70" lengthAdjust="spacingAndGlyphs">=</text>
<text x="81.78" y="29.80" style="font-size:7.7px" textLength="28.72" lengthAdjust="spacingAndGlyphs">constans</text>
<text x="49.59" y="55.00" style="font-size:7.7px" textLength="4.44" lengthAdjust="spacingAndGlyphs">σ</text>
<text x="54.22" y="52.00" style="font-size:5.9px" textLength="2.00" lengthAdjust="spacingAndGlyphs">2</text>
<text x="59.69" y="56.39" style="font-size:9.0px" textLength="5.82" lengthAdjust="spacingAndGlyphs">=</text>
<text x="67.39" y="55.00" style="font-size:7.7px" textLength="3.93" lengthAdjust="spacingAndGlyphs">a</text>
<text x="71.42" y="52.00" style="font-size:5.9px" textLength="2.00" lengthAdjust="spacingAndGlyphs">2</text>
<text x="76.58" y="55.60" style="font-size:7.7px" textLength="4.73" lengthAdjust="spacingAndGlyphs">+</text>
<rect x="83.30" y="52.12" width="23.60" height="0.75"/>
<text x="91.80" y="49.70" style="font-size:7.2px" textLength="3.14" lengthAdjust="spacingAndGlyphs">b</text>
<text x="95.11" y="46.60" style="font-size:5.4px" textLength="2.12" lengthAdjust="spacingAndGlyphs">2</text>
<text x="83.56" y="59.20" style="font-size:7.2px" textLength="9.56" lengthAdjust="spacingAndGlyphs">sin</text>
<text x="93.22" y="56.30" style="font-size:5.2px" textLength="2.00" lengthAdjust="spacingAndGlyphs">2</text>
<text x="96.23" y="59.20" style="font-size:7.2px" textLength="10.85" lengthAdjust="spacingAndGlyphs">(E)</text>
<text x="47.49" y="86.00" style="font-size:7.7px" textLength="4.44" lengthAdjust="spacingAndGlyphs">σ</text>
<text x="52.12" y="83.20" style="font-size:5.9px" textLength="2.00" lengthAdjust="spacingAndGlyphs">2</text>
<text x="56.93" y="86.59" style="font-size:9.0px" textLength="5.33" lengthAdjust="spacingAndGlyphs">=</text>
<text transform="translate(65.32 87.21) scale(0.571 1)" style="font-size:15.00px">(</text>
<text x="69.35" y="86.00" style="font-size:7.7px" textLength="3.15" lengthAdjust="spacingAndGlyphs">a</text>
<text x="74.48" y="85.60" style="font-size:7.7px" textLength="4.73" lengthAdjust="spacingAndGlyphs">+</text>
<rect x="82.10" y="82.53" width="19.50" height="0.75"/>
<text x="90.00" y="80.50" style="font-size:7.2px" textLength="3.25" lengthAdjust="spacingAndGlyphs">b</text>
<text x="82.07" y="90.00" style="font-size:7.2px" textLength="19.37" lengthAdjust="spacingAndGlyphs">sin(E)</text>
<text transform="translate(101.57 87.21) scale(0.675 1)" style="font-size:15.00px">)</text>
<text x="105.91" y="76.60" style="font-size:5.9px" textLength="2.12" lengthAdjust="spacingAndGlyphs">2</text>
<text x="49.79" y="117.00" style="font-size:7.7px" textLength="4.44" lengthAdjust="spacingAndGlyphs">σ</text>
<text x="54.42" y="114.00" style="font-size:5.9px" textLength="2.00" lengthAdjust="spacingAndGlyphs">2</text>
<text x="59.42" y="118.59" style="font-size:9.0px" textLength="5.45" lengthAdjust="spacingAndGlyphs">=</text>
<text transform="translate(66.99 119.07) scale(0.602 1)" style="font-size:19.41px">(</text>
<text x="71.65" y="117.00" style="font-size:7.7px" textLength="4.02" lengthAdjust="spacingAndGlyphs">c</text>
<text x="76.87" y="116.70" style="font-size:7.7px" textLength="4.85" lengthAdjust="spacingAndGlyphs">+</text>
<text x="83.68" y="117.00" style="font-size:7.7px" textLength="8.43" lengthAdjust="spacingAndGlyphs">de</text>
<text x="92.12" y="108.60" style="font-size:4.5px" textLength="6.56" lengthAdjust="spacingAndGlyphs">−E</text>
<rect x="92.00" y="109.90" width="6.90" height="0.6"/>
<text x="92.45" y="113.70" style="font-size:4.5px" textLength="5.96" lengthAdjust="spacingAndGlyphs">E0</text>
<text transform="translate(99.70 119.07) scale(0.642 1)" style="font-size:19.41px">)</text>
<text x="104.21" y="106.40" style="font-size:5.9px" textLength="2.12" lengthAdjust="spacingAndGlyphs">2</text>
<text x="45.58" y="145.80" style="font-size:7.7px" textLength="4.55" lengthAdjust="spacingAndGlyphs">σ</text>
<text x="50.51" y="142.40" style="font-size:5.9px" textLength="2.12" lengthAdjust="spacingAndGlyphs">2</text>
<text x="55.10" y="146.99" style="font-size:9.0px" textLength="5.70" lengthAdjust="spacingAndGlyphs">=</text>
<rect x="63.00" y="143.20" width="19.60" height="0.6"/>
<text x="69.78" y="141.30" style="font-size:5.2px" textLength="3.11" lengthAdjust="spacingAndGlyphs">σ</text>
<text x="72.85" y="138.20" style="font-size:4.0px" textLength="1.75" lengthAdjust="spacingAndGlyphs">2</text>
<text x="72.87" y="142.20" style="font-size:3.8px" textLength="1.65" lengthAdjust="spacingAndGlyphs">0</text>
<text x="63.34" y="148.40" style="font-size:5.0px" textLength="18.82" lengthAdjust="spacingAndGlyphs">2 sin(E)</text>
<text x="82.67" y="145.80" style="font-size:7.7px" textLength="2.18" lengthAdjust="spacingAndGlyphs">,</text>
<text x="86.59" y="145.80" style="font-size:7.7px" textLength="4.36" lengthAdjust="spacingAndGlyphs">E</text>
<text x="92.83" y="145.80" style="font-size:7.7px" textLength="5.33" lengthAdjust="spacingAndGlyphs">&lt;</text>
<text x="100.29" y="145.80" style="font-size:7.7px" textLength="8.53" lengthAdjust="spacingAndGlyphs">30</text>
<text x="108.91" y="145.49" style="font-size:6.0px">°</text>
<text x="51.05" y="157.80" style="font-size:7.7px" textLength="4.99" lengthAdjust="spacingAndGlyphs">σ</text>
<text x="56.32" y="154.00" style="font-size:5.9px" textLength="2.00" lengthAdjust="spacingAndGlyphs">2</text>
<text x="59.75" y="158.59" style="font-size:9.0px" textLength="6.18" lengthAdjust="spacingAndGlyphs">=</text>
<text x="68.27" y="157.80" style="font-size:7.7px" textLength="4.66" lengthAdjust="spacingAndGlyphs">σ</text>
<text x="73.02" y="153.50" style="font-size:5.9px" textLength="2.00" lengthAdjust="spacingAndGlyphs">2</text>
<text x="73.06" y="158.90" style="font-size:4.2px" textLength="1.89" lengthAdjust="spacingAndGlyphs">0</text>
<text x="75.27" y="157.80" style="font-size:7.7px" textLength="2.18" lengthAdjust="spacingAndGlyphs">,</text>
<text x="80.51" y="157.80" style="font-size:7.7px" textLength="4.13" lengthAdjust="spacingAndGlyphs">E</text>
<text x="86.41" y="157.80" style="font-size:7.7px" textLength="5.18" lengthAdjust="spacingAndGlyphs">≥</text>
<text x="94.29" y="157.80" style="font-size:7.7px" textLength="8.53" lengthAdjust="spacingAndGlyphs">30</text>
<text x="102.91" y="157.49" style="font-size:6.0px">°</text>
<text x="40.57" y="182.60" style="font-size:7.7px" textLength="4.66" lengthAdjust="spacingAndGlyphs">σ</text>
<text x="45.59" y="179.10" style="font-size:5.9px" textLength="2.37" lengthAdjust="spacingAndGlyphs">2</text>
<text x="50.12" y="183.49" style="font-size:9.0px" textLength="5.45" lengthAdjust="spacingAndGlyphs">=</text>
<text transform="translate(57.19 182.51) scale(0.799 1)" style="font-size:11.69px">(</text>
<rect x="61.40" y="179.70" width="20.00" height="0.6"/>
<text x="68.03" y="178.90" style="font-size:5.2px" textLength="3.77" lengthAdjust="spacingAndGlyphs">σ</text>
<text x="71.84" y="179.40" style="font-size:3.8px" textLength="2.12" lengthAdjust="spacingAndGlyphs">0</text>
<text x="61.96" y="185.60" style="font-size:4.8px" textLength="6.72" lengthAdjust="spacingAndGlyphs">sin</text>
<text x="68.67" y="183.70" style="font-size:3.6px" textLength="1.50" lengthAdjust="spacingAndGlyphs">2</text>
<text x="70.22" y="185.90" style="font-size:4.6px" textLength="11.17" lengthAdjust="spacingAndGlyphs">(E)</text>
<text transform="translate(81.09 182.51) scale(0.566 1)" style="font-size:11.69px">)</text>
<text x="84.11" y="176.80" style="font-size:5.9px" textLength="2.12" lengthAdjust="spacingAndGlyphs">2</text>
<text x="87.09" y="182.60" style="font-size:7.7px" textLength="2.01" lengthAdjust="spacingAndGlyphs">,</text>
<text x="91.18" y="182.60" style="font-size:7.7px" textLength="4.59" lengthAdjust="spacingAndGlyphs">E</text>
<text x="97.28" y="182.60" style="font-size:7.7px" textLength="5.94" lengthAdjust="spacingAndGlyphs">&lt;</text>
<text x="104.68" y="182.60" style="font-size:7.7px" textLength="8.75" lengthAdjust="spacingAndGlyphs">30</text>
<text x="113.61" y="182.19" style="font-size:6.0px">°</text>
<text x="41.67" y="197.60" style="font-size:7.7px" textLength="4.66" lengthAdjust="spacingAndGlyphs">σ</text>
<text x="46.89" y="194.40" style="font-size:5.9px" textLength="2.37" lengthAdjust="spacingAndGlyphs">2</text>
<text x="51.21" y="198.69" style="font-size:9.0px" textLength="5.58" lengthAdjust="spacingAndGlyphs">=</text>
<text transform="translate(58.39 198.25) scale(0.724 1)" style="font-size:12.90px">(</text>
<rect x="62.60" y="194.60" width="16.00" height="0.6"/>
<text x="68.05" y="194.00" style="font-size:5.2px" textLength="3.55" lengthAdjust="spacingAndGlyphs">σ</text>
<text x="71.64" y="194.50" style="font-size:3.8px" textLength="2.12" lengthAdjust="spacingAndGlyphs">0</text>
<text x="63.04" y="200.60" style="font-size:4.8px" textLength="15.64" lengthAdjust="spacingAndGlyphs">sin(E)</text>
<text transform="translate(78.99 198.25) scale(0.754 1)" style="font-size:12.90px">)</text>
<text x="82.48" y="192.10" style="font-size:5.9px" textLength="2.49" lengthAdjust="spacingAndGlyphs">2</text>
<text x="86.09" y="197.60" style="font-size:7.7px" textLength="2.01" lengthAdjust="spacingAndGlyphs">,</text>
<text x="89.88" y="197.60" style="font-size:7.7px" textLength="4.71" lengthAdjust="spacingAndGlyphs">E</text>
<text x="96.27" y="197.60" style="font-size:7.7px" textLength="5.77" lengthAdjust="spacingAndGlyphs">≥</text>
<text x="103.72" y="197.60" style="font-size:7.7px" textLength="7.99" lengthAdjust="spacingAndGlyphs">30</text>
<text x="111.91" y="197.49" style="font-size:6.0px">°</text>
<text x="54.09" y="227.20" style="font-size:7.7px" textLength="4.44" lengthAdjust="spacingAndGlyphs">σ</text>
<text x="58.72" y="224.10" style="font-size:5.9px" textLength="2.00" lengthAdjust="spacingAndGlyphs">2</text>
<text x="63.93" y="227.89" style="font-size:9.0px" textLength="5.33" lengthAdjust="spacingAndGlyphs">=</text>
<text transform="translate(71.47 227.84) scale(0.635 1)" style="font-size:15.33px">(</text>
<rect x="75.50" y="223.03" width="20.00" height="0.75"/>
<text x="81.61" y="220.50" style="font-size:7.4px" textLength="4.11" lengthAdjust="spacingAndGlyphs">σ</text>
<text x="85.90" y="221.20" style="font-size:5.0px" textLength="2.60" lengthAdjust="spacingAndGlyphs">0</text>
<text x="75.77" y="229.90" style="font-size:7.2px" textLength="19.48" lengthAdjust="spacingAndGlyphs">sin(E)</text>
<text transform="translate(96.26 227.84) scale(0.483 1)" style="font-size:15.33px">)</text>
<text x="98.94" y="217.40" style="font-size:5.9px" textLength="1.87" lengthAdjust="spacingAndGlyphs">2</text>
<text x="52.59" y="256.20" style="font-size:7.7px" textLength="4.44" lengthAdjust="spacingAndGlyphs">σ</text>
<text x="57.22" y="253.10" style="font-size:5.9px" textLength="2.00" lengthAdjust="spacingAndGlyphs">2</text>
<text x="62.52" y="257.09" style="font-size:9.0px" textLength="5.45" lengthAdjust="spacingAndGlyphs">=</text>
<text transform="translate(70.21 256.82) scale(0.564 1)" style="font-size:15.88px">(</text>
<rect x="73.90" y="252.22" width="23.20" height="0.75"/>
<text x="81.63" y="249.60" style="font-size:7.4px" textLength="3.88" lengthAdjust="spacingAndGlyphs">σ</text>
<text x="85.58" y="250.40" style="font-size:5.0px" textLength="2.95" lengthAdjust="spacingAndGlyphs">0</text>
<text x="73.77" y="259.40" style="font-size:7.2px" textLength="9.45" lengthAdjust="spacingAndGlyphs">sin</text>
<text x="83.22" y="256.40" style="font-size:5.2px" textLength="2.00" lengthAdjust="spacingAndGlyphs">2</text>
<text x="85.51" y="259.40" style="font-size:7.2px" textLength="11.38" lengthAdjust="spacingAndGlyphs">(E)</text>
<text transform="translate(97.01 256.82) scale(0.564 1)" style="font-size:15.88px">)</text>
<text x="100.90" y="246.60" style="font-size:5.9px" textLength="2.25" lengthAdjust="spacingAndGlyphs">2</text>
</g>
</svg>
</body></html>
